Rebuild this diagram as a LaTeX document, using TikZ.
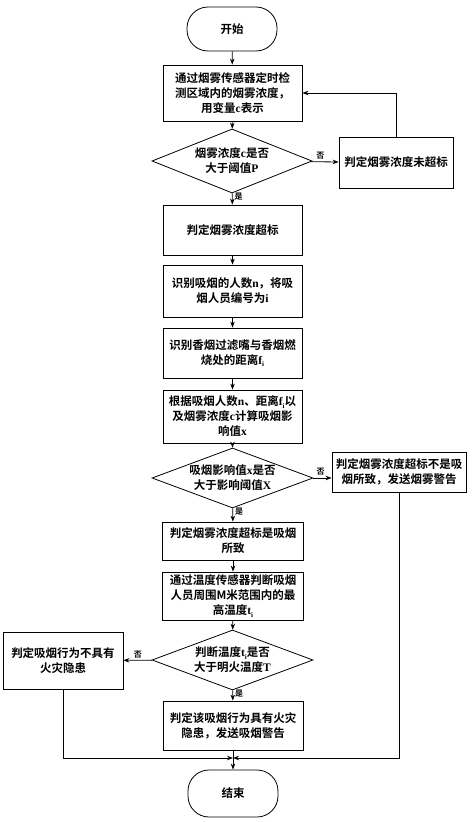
\documentclass[tikz,border=0pt]{standalone}
\usepackage{fontspec}
\setmainfont{Noto Sans CJK SC}[BoldFont={Noto Sans CJK SC Bold}]
\newfontfamily\latinfont{Liberation Serif}
\usepackage{tikz}
\usetikzlibrary{shapes.geometric, arrows.meta, positioning}
\newcommand{\la}[1]{{\latinfont #1}}
\newcommand{\sbi}{\raisebox{-0.4ex}{\fontsize{7}{7}\selectfont\latinfont i}}

\begin{document}
\begin{tikzpicture}[x=1pt,y=1pt,yscale=-1,xscale=1,
        proc/.style={draw, line width=0.8pt, align=center, inner sep=1pt, font=\bfseries\fontsize{11.5}{15}\selectfont},
        term/.style={proc, rounded corners=21pt, minimum width=90pt, minimum height=44pt},
        decide/.style={draw, diamond, aspect=2.6, line width=0.8pt, align=center, inner sep=0pt, font=\bfseries\fontsize{11.5}{15}\selectfont},
        flow/.style={line width=0.8pt, -{Stealth[length=6pt,width=4.5pt]}},
        yn/.style={font=\bfseries\fontsize{8}{8}\selectfont, inner sep=2pt}]
        \useasboundingbox (0,0) rectangle (474,822);
        %Flowchart: Terminator
        \node[term] (start) at (232,29) {开始};
        %Flowchart: Process
        \node[proc, minimum width=139pt, minimum height=56pt] (detect) at (232.5,93) {通过烟雾传感器定时检\\测区域内的烟雾浓度，\\用变量\la{c}表示};
        %Flowchart: Decision
        \node[decide, minimum width=160pt, minimum height=64pt] (thr) at (232,161) {烟雾浓度\la{c}是否\\大于阈值\la{P}};
        \node[proc, minimum width=114pt, minimum height=51pt] (nosmoke) at (396,162.5) {判定烟雾浓度未超标};
        \node[proc, minimum width=139pt, minimum height=50pt] (over) at (232.5,230) {判定烟雾浓度超标};
        \node[proc, minimum width=139pt, minimum height=52pt] (count) at (232.5,291) {识别吸烟的人数\la{n}，将吸\\烟人员编号为\la{i}};
        \node[proc, minimum width=139pt, minimum height=50pt] (dist) at (232.5,353) {识别香烟过滤嘴与香烟燃\\烧处的距离\la{f}\sbi};
        \node[proc, minimum width=139pt, minimum height=53pt] (calc) at (232.5,416.5) {根据吸烟人数\la{n}、距离\la{f}\sbi 以\\及烟雾浓度\la{c}计算吸烟影\\响值\la{x}};
        %Flowchart: Decision
        \node[decide, minimum width=161pt, minimum height=60pt] (infl) at (232.5,478) {吸烟影响值\la{x}是否\\大于影响阈值\la{X}};
        \node[proc, minimum width=134pt, minimum height=40pt] (notsmoke) at (399,472) {判定烟雾浓度超标不是吸\\烟所致，发送烟雾警告};
        \node[proc, minimum width=141pt, minimum height=38pt] (bysmoke) at (233,541) {判定烟雾浓度超标是吸烟\\所致};
        \node[proc, minimum width=141pt, minimum height=48pt] (temp) at (233,596) {通过温度传感器判断吸烟\\人员周围M米范围内的最\\高温度\la{t}\sbi};
        %Flowchart: Decision
        \node[decide, minimum width=161pt, minimum height=60pt] (fire) at (232.5,660) {判断温度\la{t}\sbi 是否\\大于明火温度\la{T}};
        \node[proc, minimum width=120pt, minimum height=57pt] (nofire) at (63,660.5) {判定吸烟行为不具有\\火灾隐患};
        \node[proc, minimum width=140pt, minimum height=49pt] (warn) at (233,725.5) {判定该吸烟行为具有火灾\\隐患，发送吸烟警告};
        %Flowchart: Terminator
        \node[term, minimum height=47pt] (end) at (233,793.5) {结束};
        \coordinate (join) at (233,758);
        %Connectors
        \draw[flow] (start) -- (detect);
        \draw[flow] (detect) -- (thr);
        \draw[flow] (thr) -- node[yn, above, pos=0.35] {否} (nosmoke);
        \draw[flow] (nosmoke.north) |- (detect.east);
        \draw[flow] (thr) -- node[yn, right, pos=0.25] {是} (over);
        \draw[flow] (over) -- (count);
        \draw[flow] (count) -- (dist);
        \draw[flow] (dist) -- (calc);
        \draw[flow] (calc) -- (infl);
        \draw[flow] (infl.east) -- node[yn, above, pos=0.4] {否} (infl.east -| notsmoke.west);
        \draw[flow] (infl) -- node[yn, right, pos=0.25] {是} (bysmoke);
        \draw[flow] (bysmoke) -- (temp);
        \draw[flow] (temp) -- (fire);
        \draw[flow] (fire) -- node[yn, above, pos=0.5] {否} (nofire);
        \draw[flow] (fire) -- node[yn, right, pos=0.3] {是} (warn);
        \draw[flow] (nofire.south) |- (join);
        \draw[flow] (notsmoke.south) |- (join);
        \draw[flow] (warn) -- (end);
\end{tikzpicture}
\end{document}
